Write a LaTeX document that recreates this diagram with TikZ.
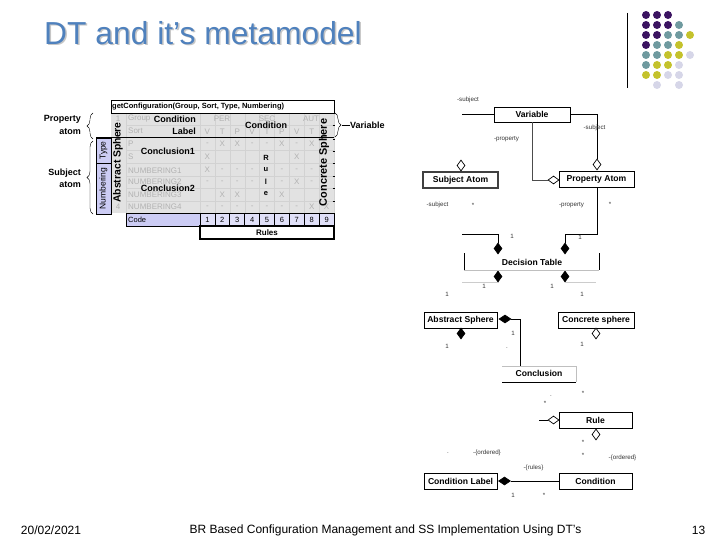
\documentclass[tikz,border=0pt]{standalone}
\usepackage{fontspec}
\setmainfont{Liberation Sans}
\usetikzlibrary{shapes.geometric,decorations.pathreplacing}
\definecolor{titleblue}{HTML}{4F81BD}
\definecolor{dotpurple}{HTML}{3B1361}
\definecolor{dotteal}{HTML}{6F9A9F}
\definecolor{dotyellow}{HTML}{C4C22C}
\definecolor{dotlilac}{HTML}{D6D6E8}
\definecolor{cellgrey}{HTML}{E2E2E2}
\definecolor{celllilac}{HTML}{CCCCF4}
\newcommand{\fs}[1]{\fontsize{#1}{#1}\selectfont}
\tikzset{
  umlbox/.style={draw,fill=white,line width=0.8pt,inner sep=0pt,font=\fs{8.6}\bfseries},
  assoc/.style={line width=0.8pt},
  opendia/.style={diamond,draw,fill=white,line width=0.7pt,inner sep=0pt,minimum width=8pt,minimum height=11pt},
  filldia/.style={opendia,fill=black},
  opendiah/.style={opendia,minimum width=11pt,minimum height=8pt},
  filldiah/.style={filldia,minimum width=12pt,minimum height=8pt},
  tinylab/.style={font=\fs{6.2},inner sep=0pt,text=black!80},
  faded/.style={font=\fs{8},text=gray!60,inner sep=0pt},
  overtext/.style={font=\fs{9}\bfseries,inner sep=0pt},
  sidelab/.style={font=\fs{9}\bfseries,inner sep=0pt,anchor=east},
  dot/.style={circle,inner sep=0pt,minimum size=8pt}
}
\begin{document}
\begin{tikzpicture}[x=1pt,y=-1pt]
  \useasboundingbox (0,0) rectangle (720,540);

  % title and footer
  \node[font=\fs{31.8},text=gray!45,inner sep=0pt] (titleshadow) at (204.5,34.5) {DT and it’s metamodel};
  \node[font=\fs{31.8},text=titleblue,inner sep=0pt] (title) at (203,33) {DT and it’s metamodel};
  \node[font=\fs{12},inner sep=0pt] (date) at (51,530) {20/02/2021};
  \node[font=\fs{12},inner sep=0pt] (foot) at (385.5,530) {BR Based Configuration Management and SS Implementation Using DT's};
  \node[font=\fs{12},inner sep=0pt] (page) at (698.5,530) {13};

  % dots
  \draw[line width=0.9pt] (627,13)--(627,88);
  \foreach \row/\cols in {15/{1/dotpurple,2/dotpurple,3/dotpurple},
      25/{1/dotpurple,2/dotpurple,3/dotpurple,4/dotteal},
      35/{1/dotpurple,2/dotpurple,3/dotteal,4/dotteal,5/dotyellow},
      45/{1/dotpurple,2/dotteal,3/dotteal,4/dotyellow},
      55/{1/dotteal,2/dotteal,3/dotyellow,4/dotyellow,5/dotlilac},
      65/{1/dotteal,2/dotyellow,3/dotyellow,4/dotlilac},
      75/{1/dotyellow,2/dotyellow,3/dotlilac,4/dotlilac},
      85/{2/dotlilac,4/dotlilac}}
    \foreach \c/\col in \cols
      \node[dot,fill=\col] (dot\row-\c) at ({635+11*\c},\row) {};

  % table
  \fill[cellgrey] (111,113) rectangle (334,213);
  \foreach \y in {125,150,163,176,188,201}
    \draw[gray!35] (126,\y)--(334,\y);
  \foreach \i in {0,...,9}
    \draw[gray!35] ({200+14.9*\i},113)--({200+14.9*\i},213);
  \draw[gray!35] (126,113)--(126,213);
  \draw[line width=0.8pt] (111,100) rectangle (334,113);
  \draw[line width=1pt] (96,138)--(334,138);
  \node[font=\fs{7.5}\bfseries,inner sep=0pt,anchor=west] (call) at (112,106.5) {getConfiguration(Group, Sort, Type, Numbering)};

  \fill[celllilac] (96,138) rectangle (111,214);
  \draw[line width=0.8pt] (96,138) rectangle (111,214);
  \draw[line width=0.8pt] (96,163)--(111,163);
  \node[font=\fs{8.5},rotate=90,inner sep=0pt] (type) at (103.5,150.5) {Type};
  \node[font=\fs{8.5},rotate=90,inner sep=0pt] (numbering) at (103.5,188.5) {Numbering};

  \draw[line width=0.8pt,fill=celllilac] (126,213) rectangle (200,226);
  \node[font=\fs{7.5},inner sep=0pt,anchor=west] (code) at (128,220) {Code};
  \foreach \i in {1,...,9} {
    \draw[line width=0.8pt,fill=celllilac!60] ({200+14.9*(\i-1)},213) rectangle ({200+14.9*\i},226);
    \node[font=\fs{7.5},inner sep=0pt] (num\i) at ({192.5+14.9*\i},220) {\i};
  }
  \draw[line width=1.1pt] (200,226) rectangle (334,239);
  \node[font=\fs{8}\bfseries,inner sep=0pt] (rules) at (267,233) {Rules};

  % faded contents
  \node[faded,anchor=west] (fgroup) at (128,119) {Group};
  \node[faded,anchor=west] (fsort) at (128,131) {Sort};
  \node[faded,anchor=west] (fp) at (128,144) {P};
  \node[faded,anchor=west] (fs) at (128,157) {S};
  \node[faded,anchor=west] (fn1) at (128,171) {NUMBERING1};
  \node[faded,anchor=west] (fn2) at (128,182) {NUMBERING2};
  \node[faded,anchor=west] (fn3) at (128,195) {NUMBERING3};
  \node[faded,anchor=west] (fn4) at (128,207) {NUMBERING4};
  \node[faded] (fone) at (118,119) {1};
  \node[faded] (ffour) at (118,207) {4};
  \node[faded] (fper) at (222,119) {PER};
  \node[faded] (fsec) at (267,119) {SEC};
  \node[faded] (faut) at (311,119) {AUT};
  \foreach \i/\t in {1/V,2/T,3/P,4/V,5/T,6/P,7/V,8/T}
    \node[faded] (head\i) at ({192.5+14.9*\i},131.5) {\t};
  \foreach \y/\marks in {144/{1/-,2/X,3/X,4/-,5/-,6/X,7/-,8/X},
      157/{1/X,7/X},
      170/{1/X,2/-,3/-,4/-,6/-,7/-,8/-},
      182/{1/-,2/-,3/-,4/-,6/-,7/X,8/-},
      195/{2/X,3/X,6/X},
      207/{1/-,2/-,3/-,4/-,5/-,6/-,7/-,8/X,9/X}}
    \foreach \i/\t in \marks
      \node[faded] (mark\y-\i) at ({192.5+14.9*\i},\y) {\t};

  % black labels over the table
  \node[overtext,anchor=east] (condlabel) at (196,119) {Condition};
  \node[overtext,anchor=east] (label) at (196,131) {Label};
  \node[overtext,anchor=east] (concl1) at (195,151) {Conclusion1};
  \node[overtext,anchor=east] (concl2) at (195,188) {Conclusion2};
  \node[overtext] (condition) at (266,125) {Condition};
  \node[overtext,font=\fs{10.4}\bfseries,rotate=90] (abstract) at (118,162.5) {Abstract Sphere};
  \node[overtext,font=\fs{10.9}\bfseries,rotate=90] (concrete) at (324,162.5) {Concrete Sphere};
  \foreach \t/\y in {R/158,u/170,l/182,e/194}
    \node[font=\fs{7.5}\bfseries,inner sep=0pt] (rule\t) at (266,\y) {\t};
  \foreach \y in {125,139,151,163,176,188,201}
    \draw[line width=0.7pt] (332.5,\y)--(334.5,\y);

  % braces and side labels
  \draw[decorate,decoration={brace,amplitude=6pt}] (93,139)--(93,113);
  \draw[decorate,decoration={brace,amplitude=6pt}] (93,214)--(93,141);
  \draw[decorate,decoration={brace,amplitude=6pt}] (335,113)--(335,137);
  \coordinate (varbrace) at (342,125);
  \node[sidelab] (prop1) at (81,119) {Property};
  \node[sidelab] (prop2) at (81,132) {atom};
  \node[sidelab] (subj1) at (81,173) {Subject};
  \node[sidelab] (subj2) at (81,185) {atom};
  \node[sidelab,anchor=west] (varlab) at (350,125) {Variable};
  \draw (varbrace)--(varlab.west);

  % class diagram
  \node[umlbox,minimum width=76pt,minimum height=15pt] (variable) at (532,114.5) {Variable};
  \node[umlbox,minimum width=75pt,minimum height=16pt,line width=1.1pt,draw=black!75] (subjatom) at (460.5,180) {Subject Atom};
  \node[umlbox,minimum width=75pt,minimum height=16pt] (propatom) at (596.5,179) {Property Atom};
  \node[opendia] (dsubj) at (461,165.5) {};
  \node[opendia] (dprop) at (597,164.5) {};
  \node[opendiah] (dvar) at (553.5,180) {};
  \coordinate (varfree) at (462,114);
  \coordinate (varcorner) at (597,114.5);
  \coordinate (varlow) at (532,180);
  \draw[assoc] (varfree)--(variable.west |- varfree);
  \draw[assoc] (variable.east)--(varcorner)--(dprop.north);
  \draw[assoc,black!70] (variable.south -| varlow)--(varlow)--(dvar.west);

  \node[filldia] (dtl) at (498,248.5) {};
  \node[filldia] (dtr) at (565,248.5) {};
  \node[filldia] (dbl) at (498,276.5) {};
  \node[filldia] (dbr) at (565,276.5) {};
  \node[font=\fs{8.6}\bfseries,inner sep=0pt] (dectable) at (532,262) {Decision Table};
  \coordinate (dtnw) at (464,253);
  \coordinate (dtsw) at (464,270);
  \coordinate (dtne) at (599,253);
  \coordinate (dtse) at (599,270);
  \draw[assoc] (dtnw)--(dtsw);
  \draw[assoc] (dtne)--(dtse);
  \draw[gray!50,line width=0.8pt] (dtsw)--(dtse);
  \coordinate (ltfree) at (462,234);
  \coordinate (ltcorner) at (498,234);
  \coordinate (rtcorner) at (565,234);
  \coordinate (rtup) at (597,234);
  \draw[assoc] (ltfree)--(ltcorner)--(dtl.north);
  \draw[assoc] (propatom.south -| rtup)--(rtup)--(rtcorner)--(dtr.north);
  \coordinate (lbcorner) at (498,282);
  \coordinate (lbfree) at (462,282);
  \coordinate (rbcorner) at (565,282);
  \coordinate (rbfree) at (596,282);
  \draw[gray!40,line width=0.9pt] (dbl.south)--(lbcorner)--(lbfree);
  \draw[gray!40,line width=0.9pt] (dbr.south)--(rbcorner)--(rbfree);

  \node[umlbox,minimum width=73pt,minimum height=16pt] (absphere) at (460.5,320) {Abstract Sphere};
  \node[umlbox,minimum width=76pt,minimum height=16pt] (consphere) at (596,320) {Concrete sphere};
  \node[filldia] (dabs) at (461,333.5) {};
  \node[opendia] (dcon) at (596,333.5) {};
  \node[filldiah] (dabsr) at (505,319) {};
  \node[font=\fs{8.6}\bfseries,inner sep=0pt] (conclusion) at (539,373.5) {Conclusion};
  \coordinate (cnw) at (502,366);
  \coordinate (cne) at (576,366);
  \coordinate (csw) at (502,382);
  \coordinate (cse) at (576,382);
  \draw[gray!50,line width=0.8pt] (cnw)--(cne)--(cse);
  \draw[assoc] (csw)--(cse);
  \coordinate (abscorner) at (520,319);
  \coordinate (contop) at (520,366);
  \draw[assoc] (dabsr.east)--(abscorner)--(contop);

  \node[umlbox,minimum width=73pt,minimum height=16pt] (rule) at (595.5,420) {Rule};
  \node[opendiah] (drule) at (553.5,420) {};
  \node[opendia] (drulelow) at (596,434.5) {};
  \coordinate (rulefree) at (539,420);
  \draw[assoc] (rulefree)--(drule.west);
  \node[umlbox,minimum width=73pt,minimum height=16pt] (condbox) at (595.5,481) {Condition};
  \node[umlbox,minimum width=73pt,minimum height=16pt] (condlab) at (460.5,481) {Condition Label};
  \node[filldiah] (dcond) at (504.5,481) {};
  \draw[assoc] (dcond.east)--(condbox.west);

  % role names and multiplicities
  \foreach \n/\x/\y/\t in {a/468/100/-subject,b/594.5/128/-subject,c/506.5/139/-property,
      d/437.5/205/-subject,e/473/205/*,f/571.5/205/-property,g/610/204/*,
      h/512/236/1,i/580/237/1,j/484/286/1,k/552/286/1,l/447/294/1,m/582/294/1,
      n/513/333/1,o/447/346/1,p/582/344/1,q/507/348/.,
      r/583/393/*,s/551/396/.,t/545/403/*,u/583/442/*,v/583/455/*,w/448/453/.,
      x/487/453/-\{ordered\},y/622.5/458/-\{ordered\},z/533.5/468/-\{rules\},
      aa/513/495/1,ab/544/495/*}
    \node[tinylab] (role\n) at (\x,\y) {\t};
\end{tikzpicture}
\end{document}
